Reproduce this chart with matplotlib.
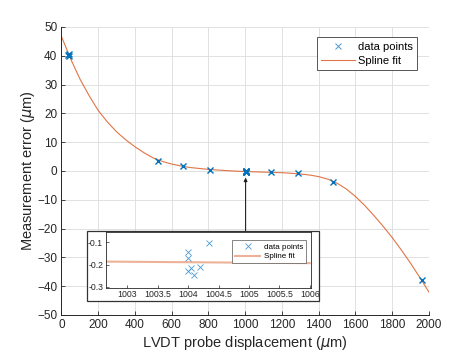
import matplotlib
matplotlib.use("Agg")
import matplotlib.pyplot as plt
from matplotlib.patches import Rectangle

plt.rcParams['font.family'] = ['Liberation Sans', 'DejaVu Sans']
plt.rcParams['mathtext.fontset'] = 'dejavusans'

# ---- data ----
data_x = [38, 41, 43, 523, 659, 808, 1004.0, 1004.0, 1004.0, 1004.05, 1004.09, 1004.2, 1004.35,
          1138, 1289, 1475, 1960]
data_y = [40.1, 40.6, 39.9, 3.6, 1.7, 0.45, -0.145, -0.173, -0.227, -0.216, -0.247, -0.212, -0.105,
          -0.45, -0.8, -3.7, -37.8]

spline_x = [0, 50, 100, 150, 200, 250, 300, 350, 400, 450, 500, 550, 600, 650, 700, 800, 900,
            1000, 1100, 1200, 1250, 1300, 1350, 1400, 1450, 1500, 1550, 1600, 1650, 1700, 1750,
            1800, 1850, 1900, 1950, 2000]
spline_y = [46.7, 38.9, 32.0, 26.2, 21.0, 17.0, 13.6, 10.8, 8.4, 6.3, 4.5, 3.3, 2.4, 1.75, 1.2,
            0.55, 0.12, -0.2, -0.4, -0.6, -0.8, -1.05, -1.4, -1.95, -2.85, -4.25, -6.25, -8.85,
            -11.95, -15.45, -19.15, -23.15, -27.45, -32.05, -36.95, -42.05]

inset_x = [1004.0, 1004.0, 1004.0, 1004.05, 1004.09, 1004.2, 1004.35]
inset_y = [-0.145, -0.173, -0.227, -0.216, -0.247, -0.212, -0.105]
inset_spline_x = [1002.65, 1006.0]
inset_spline_y = [-0.187, -0.194]

x_ticks = [0, 200, 400, 600, 800, 1000, 1200, 1400, 1600, 1800, 2000]
y_ticks = [50, 40, 30, 20, 10, 0, -10, -20, -30, -40, -50]
inset_xticks = [1003, 1003.5, 1004, 1004.5, 1005, 1005.5, 1006]
inset_yticks = [-0.1, -0.2, -0.3]

BLUE = '#0072BD'
ORANGE = '#D95319'
DARK = '#262626'

fig = plt.figure(figsize=(4.74, 3.55), dpi=100)
ax = fig.add_axes([0.1297, 0.1127, 0.7753, 0.8113])

ax.plot(data_x, data_y, 'x', color=BLUE, markersize=5, mew=1.0, label='data points', zorder=3)
ax.plot(spline_x, spline_y, '-', color=ORANGE, lw=0.8, alpha=0.8, label='Spline fit', zorder=2)

ax.set_xlim(0, 2000)
ax.set_ylim(-50, 50)
ax.set_xticks(x_ticks)
ax.set_yticks(y_ticks)
ax.grid(True, color='#DCDCDC', lw=0.6)
ax.set_axisbelow(True)
for s in ['top', 'right']:
    ax.spines[s].set_visible(False)
for s in ['left', 'bottom']:
    ax.spines[s].set_color(DARK)
    ax.spines[s].set_linewidth(0.7)
ax.tick_params(direction='in', length=3, width=0.6, colors=DARK, labelsize=8.5, pad=3)
ax.set_xlabel(r'LVDT probe displacement ($\mu$m)', fontsize=10.5, color=DARK, labelpad=2)
ax.set_ylabel(r'Measurement error ($\mu$m)', fontsize=10.5, color=DARK, labelpad=0)

leg = ax.legend(loc='upper right', bbox_to_anchor=(0.968, 0.964), fontsize=8, frameon=True,
                fancybox=False, edgecolor='#555555', framealpha=1, borderpad=0.4,
                handlelength=3.0, handletextpad=0.3, labelspacing=0.35, borderaxespad=0)
leg.get_frame().set_linewidth(0.7)
leg.legend_handles[0].set_color('#4A9AD4')
leg.legend_handles[0].set_markeredgewidth(0.7)

# inset frame
frame = Rectangle((0.183, 0.152), 0.4906, 0.196, transform=fig.transFigure,
                  facecolor='white', edgecolor='#333333', lw=0.9, zorder=5)
fig.patches.append(frame)

# arrow
ax.annotate('', xy=(1002, -2.3), xycoords='data',
            xytext=(1002, 0.348), textcoords=('data', 'figure fraction'),
            arrowprops=dict(arrowstyle='-|>', color='#222222', lw=0.8,
                            mutation_scale=5, shrinkA=0, shrinkB=0), zorder=6)

axi = fig.add_axes([0.2236, 0.190, 0.4325, 0.1563], zorder=10)
axi.plot(inset_x, inset_y, 'x', color='#4A9AD4', markersize=4, mew=0.6, label='data points')
axi.plot(inset_spline_x, inset_spline_y, '-', color=ORANGE, lw=1.5, alpha=0.45,
         label='Spline fit')
axi.set_xlim(1002.65, 1006.02)
axi.set_ylim(-0.303, -0.055)
axi.set_xticks(inset_xticks)
axi.set_xticklabels(['1003', '1003.5', '1004', '1004.5', '1005', '1005.5', '1006'])
axi.set_yticks(inset_yticks)
axi.set_yticklabels(['-0.1', '-0.2', '-0.3'])
axi.tick_params(direction='in', length=2, width=0.5, colors=DARK, labelsize=6.3, pad=2)
for s in axi.spines.values():
    s.set_color(DARK)
    s.set_linewidth(0.6)
legi = axi.legend(loc='upper right', bbox_to_anchor=(0.975, 0.85), fontsize=5.8, frameon=True,
                  fancybox=False, edgecolor='#555555', framealpha=1, borderpad=0.35,
                  handlelength=3.2, handletextpad=0.4, labelspacing=0.25, borderaxespad=0)
legi.get_frame().set_linewidth(0.5)

fig.savefig('out.png', dpi=100)
